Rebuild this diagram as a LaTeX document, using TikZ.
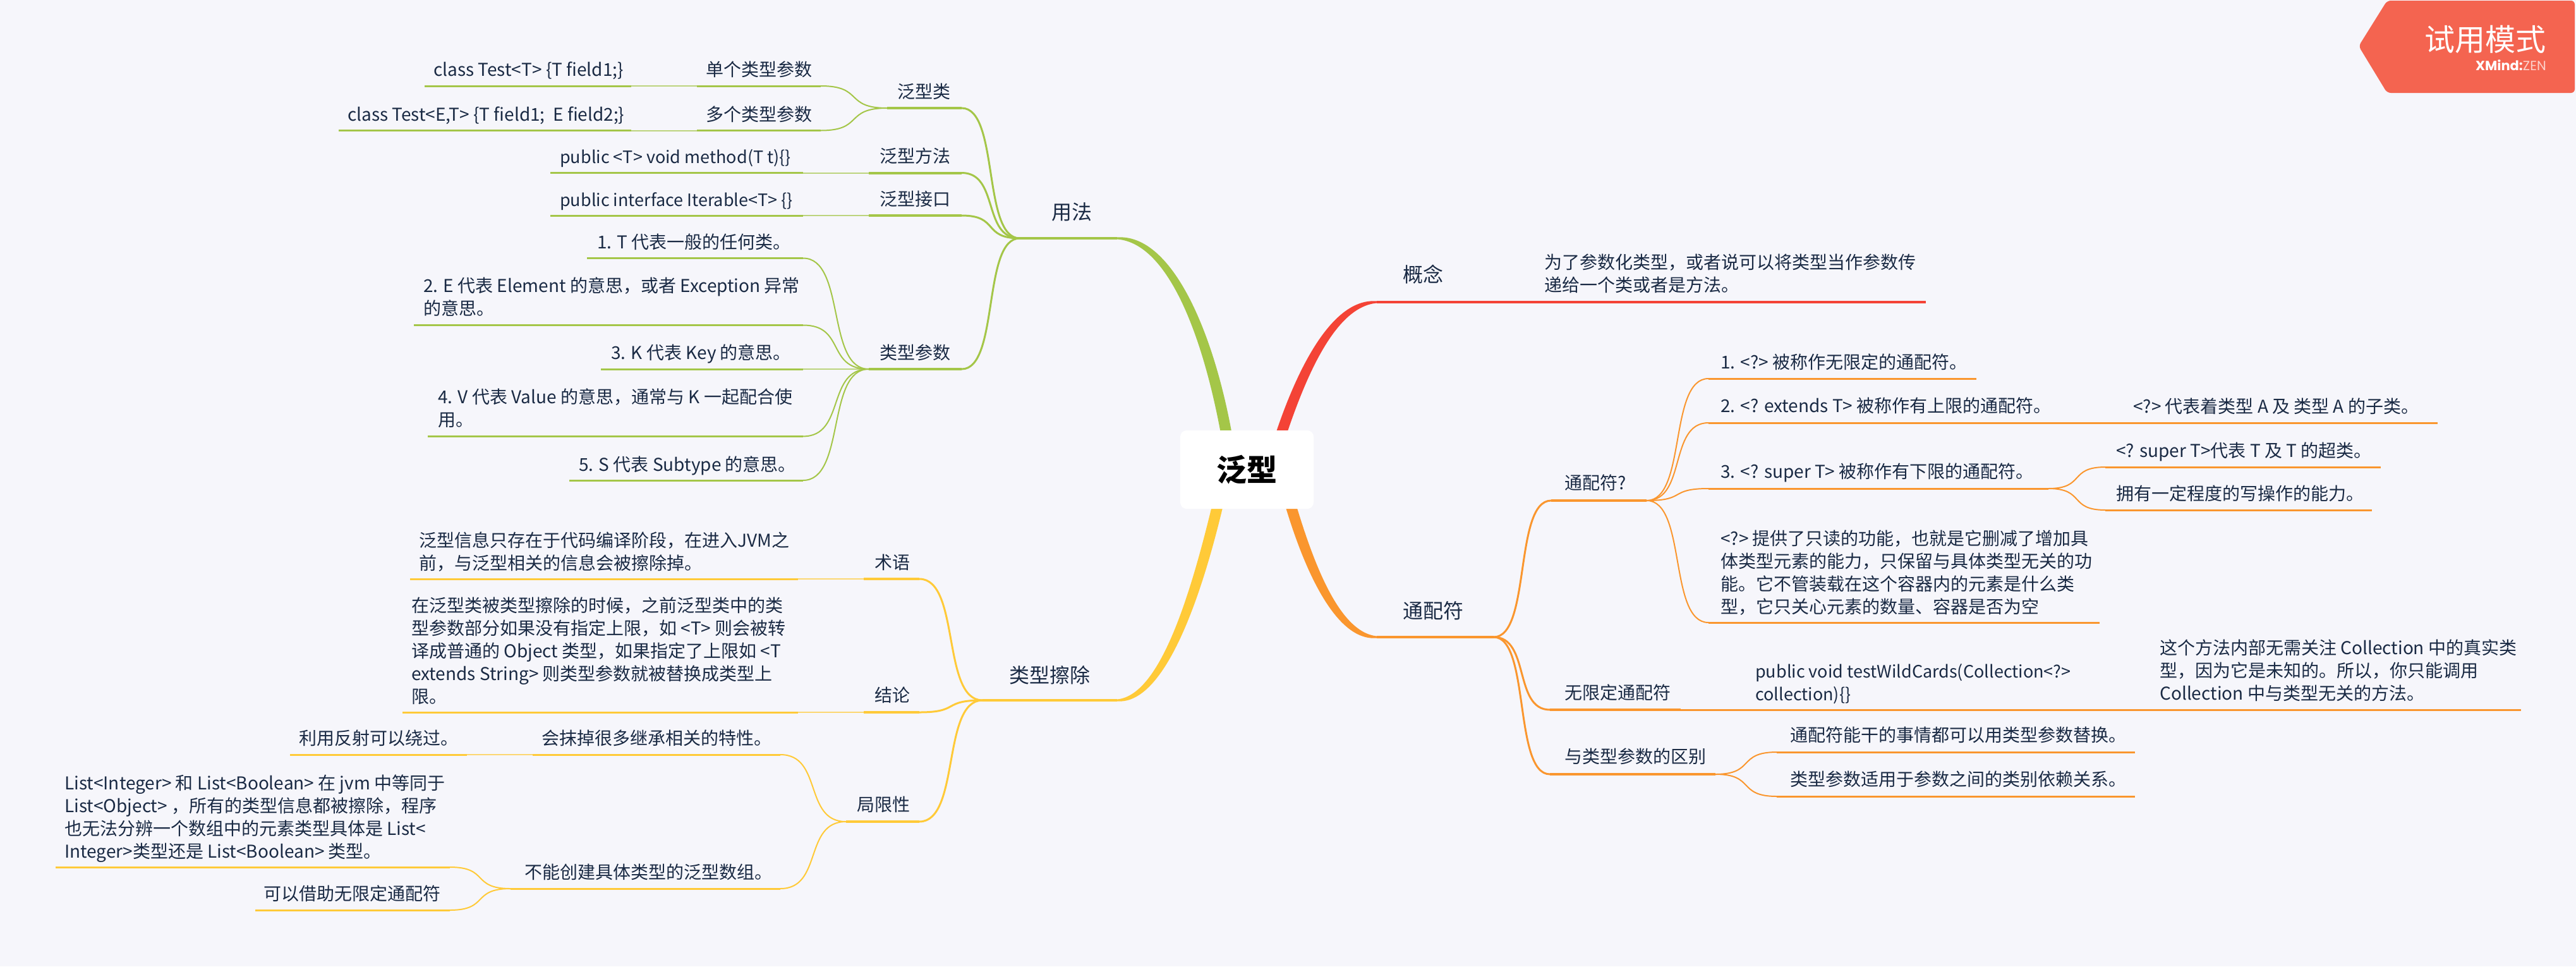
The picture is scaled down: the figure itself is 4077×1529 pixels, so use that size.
\documentclass[tikz,border=0pt]{standalone}
\usepackage{fontspec}
\setmainfont{Noto Sans CJK SC}
\newfontfamily\wmfont{Poppins}
\usetikzlibrary{calc}
\definecolor{bgc}{HTML}{F6F6FB}
\definecolor{ink}{HTML}{1A2A44}
\definecolor{cred}{HTML}{F44336}
\definecolor{cora}{HTML}{FA962E}
\definecolor{cyel}{HTML}{FFCA38}
\definecolor{cgre}{HTML}{A4C648}
\definecolor{wmc}{HTML}{F46450}
\tikzset{
  lab/.style={anchor=south west,inner sep=0pt,yshift=-21.4pt,align=left,text=ink,font=\fontsize{28}{36}\selectfont,execute at end node=\strut},
  latin/.style={font=\fontsize{27}{36}\selectfont},
  biglab/.style={anchor=south west,inner sep=0pt,yshift=-24.2pt,align=left,text=ink,font=\fontsize{32}{40}\selectfont,execute at end node=\strut},
  hubline/.style={line width=4.5pt},
  midline/.style={line width=4pt},
  leafline/.style={line width=3pt},
  bridge/.style={line width=2pt,opacity=.7},
  curveA/.style={line width=3pt,line cap=round},
  curveB/.style={line width=2pt,line cap=round},
  rootbox/.style={fill=white,rounded corners=10pt,minimum width=211pt,minimum height=124pt,inner sep=0pt,font=\fontsize{48}{56}\selectfont\bfseries,text=black}
}
% name, x left, x right, y, style
\newcommand{\seg}[5]{\coordinate (#1-l) at (#2,#4);\coordinate (#1-r) at (#3,#4);\draw[#5] (#1-l)--(#1-r);}
% S-shaped connector from named point to named point
\newcommand{\conn}[3]{\draw[#1] let \p1=(#2),\p2=(#3) in (#2) .. controls ({\x1+.65*(\x2-\x1)},\y1) and ({\x2-.65*(\x2-\x1)},\y2) .. (#3);}
% tapered main branch: colour, start, c1, c2, end, sx, sy
\newcommand{\taper}[7]{\fill[#1] ([xshift=#6*8.5pt]#2) .. controls ([xshift=#6*10pt]#3) and ([xshift=#6*4pt,yshift=#7*8pt]#4) .. ([yshift=#7*1.5pt]#5) -- ([yshift=-#7*1.5pt]#5) .. controls ([xshift=-#6*4pt,yshift=-#7*8pt]#4) and ([xshift=-#6*10pt]#3) .. ([xshift=-#6*8.5pt]#2) -- cycle;}
\begin{document}
\begin{tikzpicture}[x=1pt,y=-1pt]
\path[use as bounding box,fill=bgc] (0,0) rectangle (4077,1529);

% ---------- coordinates and lines: green
\begin{scope}[cgre,draw=cgre]
\seg{yongfa}{1614}{1768}{377}{hubline}
\seg{fxl}{1404}{1522}{171}{midline}
\seg{fxff}{1375}{1522}{273.5}{midline}
\seg{fxjk}{1375}{1522}{341}{midline}
\seg{lxcs}{1375}{1522}{584}{midline}
\seg{dg}{1103}{1299}{136}{leafline}
\seg{dgc}{672}{999}{136}{leafline}
\seg{dc}{1103}{1299}{206.5}{leafline}
\seg{dcc}{536}{999}{206.5}{leafline}
\seg{ffc}{871}{1271}{273.5}{leafline}
\seg{jkc}{871}{1271}{341}{leafline}
\seg{p1}{929}{1271}{408.5}{leafline}
\seg{p2}{655}{1271}{514.5}{leafline}
\seg{p3}{951}{1271}{584}{leafline}
\seg{p4}{677}{1271}{690.4}{leafline}
\seg{p5}{901}{1271}{760}{leafline}
\draw[bridge] (dgc-r)--(dg-l);
\draw[bridge] (dcc-r)--(dc-l);
\draw[bridge] (ffc-r)--(fxff-l);
\draw[bridge] (jkc-r)--(fxjk-l);
\draw[bridge] (p3-r)--(lxcs-l);
\conn{curveA}{yongfa-l}{fxl-r}
\conn{curveA}{yongfa-l}{fxff-r}
\conn{curveA}{yongfa-l}{fxjk-r}
\conn{curveA}{yongfa-l}{lxcs-r}
\conn{curveB}{fxl-l}{dg-r}
\conn{curveB}{fxl-l}{dc-r}
\conn{curveB}{lxcs-l}{p1-r}
\conn{curveB}{lxcs-l}{p2-r}
\conn{curveB}{lxcs-l}{p4-r}
\conn{curveB}{lxcs-l}{p5-r}
\end{scope}

% ---------- yellow
\begin{scope}[cyel,draw=cyel]
\seg{cc}{1555}{1768}{1108}{hubline}
\seg{sy}{1367}{1455}{916}{midline}
\seg{jl}{1367}{1455}{1127}{midline}
\seg{jxx}{1339}{1455}{1300}{midline}
\seg{syc}{649}{1263}{916}{leafline}
\seg{jlc}{637}{1263}{1127}{leafline}
\seg{mo}{843}{1235}{1194}{leafline}
\seg{moc}{459}{739}{1194}{leafline}
\seg{bn}{808}{1235}{1406}{leafline}
\seg{lst}{88}{712}{1372}{leafline}
\seg{kj}{404}{712}{1440}{leafline}
\draw[bridge] (syc-r)--(sy-l);
\draw[bridge] (jlc-r)--(jl-l);
\draw[bridge] (moc-r)--(mo-l);
\conn{curveA}{cc-l}{sy-r}
\conn{curveA}{cc-l}{jl-r}
\conn{curveA}{cc-l}{jxx-r}
\conn{curveB}{jxx-l}{mo-r}
\conn{curveB}{jxx-l}{bn-r}
\conn{curveB}{bn-l}{lst-r}
\conn{curveB}{bn-l}{kj-r}
\end{scope}

% ---------- red
\begin{scope}[cred,draw=cred]
\seg{gn}{2179}{2424}{478}{hubline}
\seg{gnc}{2424}{3048}{478}{hubline}
\end{scope}

% ---------- orange
\begin{scope}[cora,draw=cora]
\seg{tpf}{2179}{2364}{1008}{hubline}
\seg{tq}{2455}{2606}{792}{midline}
\seg{wx}{2453}{2660}{1123}{midline}
\seg{yl}{2453}{2715}{1225}{midline}
\seg{q1}{2704}{3128}{599}{leafline}
\seg{q2}{2704}{3260}{669}{leafline}
\seg{q2c}{3362}{3858}{669}{leafline}
\seg{q3}{2704}{3242}{773}{leafline}
\seg{q3a}{3332}{3768}{739}{leafline}
\seg{q3b}{3332}{3754}{807}{leafline}
\seg{q4}{2704}{3323}{985}{leafline}
\seg{wxa}{2764}{3300}{1123}{leafline}
\seg{wxb}{3404}{3990}{1123}{leafline}
\seg{yla}{2812}{3379}{1190}{leafline}
\seg{ylb}{2812}{3379}{1260}{leafline}
\draw[leafline] (q2-r)--(q2c-l);
\draw[leafline] (wx-r)--(wxa-l);
\draw[leafline] (wxa-r)--(wxb-l);
\conn{curveA}{tpf-r}{tq-l}
\conn{curveA}{tpf-r}{wx-l}
\conn{curveA}{tpf-r}{yl-l}
\conn{curveB}{tq-r}{q1-l}
\conn{curveB}{tq-r}{q2-l}
\conn{curveB}{tq-r}{q3-l}
\conn{curveB}{tq-r}{q4-l}
\conn{curveB}{q3-r}{q3a-l}
\conn{curveB}{q3-r}{q3b-l}
\conn{curveB}{yl-r}{yla-l}
\conn{curveB}{yl-r}{ylb-l}
\end{scope}

% ---------- main tapered branches
\coordinate (rg) at (1950,743);
\coordinate (rr) at (2010,743);
\coordinate (ro) at (2027,743);
\coordinate (ry) at (1940,743);
\taper{cgre}{rg}{1925,560}{1860,377}{yongfa-r}{-1}{-1}
\taper{cred}{rr}{2047,616}{2103,478}{gn-l}{1}{-1}
\taper{cora}{ro}{2060,870}{2110,1008}{tpf-l}{1}{1}
\taper{cyel}{ry}{1902,918}{1845,1108}{cc-r}{-1}{1}

% ---------- root
\node[rootbox] (root) at (1973.5,743) {泛型};

% ---------- labels: green
\node[biglab] (n-yongfa) at (1664,335.5) {用法};
\node[lab] (n-fxl) at (1420,145) {泛型类};
\node[lab] (n-dg) at (1117,110.5) {单个类型参数};
\node[lab] (n-dgc) at (686,110.5) {class Test<T> \{T field1;\}};
\node[lab] (n-dc) at (1117,181) {多个类型参数};
\node[lab] (n-dcc) at (550,181) {class Test<E,T> \{T field1;\ \ E field2;\}};
\node[lab] (n-fxff) at (1392,247) {泛型方法};
\node[lab,latin] (n-ffc) at (886,248) {public <T> void method(T t)\{\}};
\node[lab] (n-fxjk) at (1392,315) {泛型接口};
\node[lab,latin] (n-jkc) at (886,316) {public interface Iterable<T> \{\}};
\node[lab] (n-lxcs) at (1392,558) {类型参数};
\node[lab] (n-p1) at (945,383) {1. T 代表一般的任何类。};
\node[lab] (n-p2) at (670,488) {2. E 代表 Element 的意思，或者 Exception 异常\\的意思。};
\node[lab] (n-p3) at (967,558) {3. K 代表 Key 的意思。};
\node[lab] (n-p4) at (693,664) {4. V 代表 Value 的意思，通常与 K 一起配合使\\用。};
\node[lab] (n-p5) at (916,735) {5. S 代表 Subtype 的意思。};

% ---------- labels: yellow
\node[biglab] (n-cc) at (1597,1068) {类型擦除};
\node[lab] (n-sy) at (1384,890) {术语};
\node[lab] (n-syc) at (663,891) {泛型信息只存在于代码编译阶段，在进入JVM之\\前，与泛型相关的信息会被擦除掉。};
\node[lab] (n-jl) at (1384,1100.5) {结论};
\node[lab] (n-jlc) at (651,1102) {在泛型类被类型擦除的时候，之前泛型类中的类\\型参数部分如果没有指定上限，如 <T> 则会被转\\译成普通的 Object 类型，如果指定了上限如 <T\\extends String> 则类型参数就被替换成类型上\\限。};
\node[lab] (n-jxx) at (1356,1273) {局限性};
\node[lab] (n-mo) at (857,1168) {会抹掉很多继承相关的特性。};
\node[lab] (n-moc) at (473,1168) {利用反射可以绕过。};
\node[lab] (n-bn) at (830,1380) {不能创建具体类型的泛型数组。};
\node[lab] (n-lst) at (102,1347) {List<Integer> 和 List<Boolean> 在 jvm 中等同于\\List<Object>\ ，所有的类型信息都被擦除，程序\\也无法分辨一个数组中的元素类型具体是 List<\\Integer>类型还是 List<Boolean> 类型。};
\node[lab] (n-kj) at (417,1414) {可以借助无限定通配符};

% ---------- labels: red
\node[biglab] (n-gn) at (2220,434.5) {概念};
\node[lab] (n-gnc) at (2444,450.6) {为了参数化类型，或者说可以将类型当作参数传\\递给一个类或者是方法。};

% ---------- labels: orange
\node[biglab] (n-tpf) at (2220,966) {通配符};
\node[lab] (n-tq) at (2476,764) {通配符?};
\node[lab] (n-wx) at (2476,1096) {无限定通配符};
\node[lab] (n-yl) at (2476,1197) {与类型参数的区别};
\node[lab] (n-q1) at (2723,573) {1. <?> 被称作无限定的通配符。};
\node[lab] (n-q2) at (2723,642) {2. <? extends T> 被称作有上限的通配符。};
\node[lab] (n-q2c) at (3376,643) {<?> 代表着类型 A 及 类型 A 的子类。};
\node[lab] (n-q3) at (2723,746) {3. <? super T> 被称作有下限的通配符。};
\node[lab] (n-q3a) at (3349,713) {<? super T>代表 T 及 T 的超类。};
\node[lab] (n-q3b) at (3349,781) {拥有一定程度的写操作的能力。};
\node[lab] (n-q4) at (2723,960) {<?> 提供了只读的功能，也就是它删减了增加具\\体类型元素的能力，只保留与具体类型无关的功\\能。它不管装载在这个容器内的元素是什么类\\型，它只关心元素的数量、容器是否为空};
\node[lab,latin] (n-wxa) at (2778,1098) {public void testWildCards(Collection<?>\\collection)\{\}};
\node[lab] (n-wxb) at (3418,1097) {这个方法内部无需关注 Collection 中的真实类\\型，因为它是未知的。所以，你只能调用\\Collection 中与类型无关的方法。};
\node[lab] (n-yla) at (2833,1163) {通配符能干的事情都可以用类型参数替换。};
\node[lab] (n-ylb) at (2833,1233) {类型参数适用于参数之间的类别依赖关系。};

% ---------- trial badge
\fill[wmc,rounded corners=6pt] (3778,1) -- (4075,1) -- (4075,147) -- (3778,147) -- (3733,73) -- cycle;
\node[inner sep=0pt,anchor=center,text=white,font=\fontsize{48}{56}\selectfont] (badge) at (3933,62) {试用模式};
\node[inner sep=0pt,anchor=east,text=white,font=\fontsize{21}{26}\wmfont] (brand) at (4030,103) {\textbf{XMind:}\textcolor{white!70!wmc}{ZEN}};
\end{tikzpicture}
\end{document}
